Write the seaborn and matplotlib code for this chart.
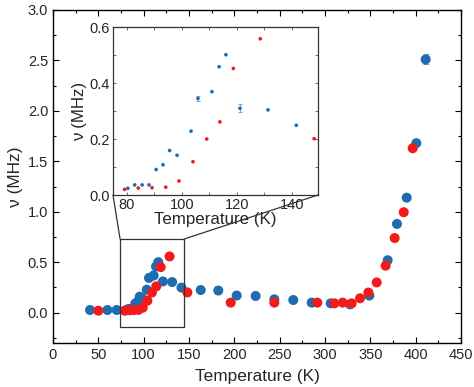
import numpy as np
import pandas as pd
import matplotlib
matplotlib.use("Agg")
import matplotlib.pyplot as plt
import seaborn as sns
from matplotlib.patches import Rectangle, ConnectionPatch
from matplotlib.ticker import MultipleLocator

# ---- data ----
blue_T = [40.8, 60, 70.2, 80.4, 82.9, 85.6, 88.1, 90.7, 93.2, 95.6, 98.3, 103.4, 105.9,
          111.0, 113.6, 116.1, 121.2, 131.4, 141.7, 162.9, 182.3, 202.6, 223.5, 244.1,
          265.0, 285.3, 306.3, 327.6, 348.9, 369.1, 379.4, 390.1, 400.7, 411.0]
blue_v = [0.027, 0.027, 0.027, 0.024, 0.036, 0.036, 0.036, 0.091, 0.108, 0.159, 0.142, 0.228, 0.345,
          0.369, 0.458, 0.501, 0.310, 0.304, 0.249, 0.225, 0.22, 0.17, 0.166, 0.133,
          0.126, 0.10, 0.093, 0.083, 0.17, 0.52, 0.88, 1.14, 1.68, 2.51]
red_T = [50.0, 79.2, 84.2, 89.2, 94.2, 99.0, 104.1, 109.1, 113.9, 118.8, 128.6, 148.2,
         196.0, 244.1, 291.5, 310.4, 319.5, 329.4, 338.6, 347.8, 357.0, 366.9, 376.8,
         386.8, 396.7]
red_v = [0.02, 0.020, 0.025, 0.026, 0.028, 0.050, 0.119, 0.200, 0.261, 0.452, 0.558, 0.201,
         0.10, 0.10, 0.10, 0.093, 0.10, 0.093, 0.143, 0.20, 0.30, 0.466, 0.74,
         0.996, 1.63]
err_T = [105.9, 121.2, 411.0]
err_v = [0.345, 0.310, 2.51]
err_e = [0.010, 0.014, 0.05]

BLUE = "#1f6db0"
RED = "#f21a1a"

df = pd.DataFrame({
    "T": blue_T + red_T,
    "v": blue_v + red_v,
    "s": ["blue"] * len(blue_T) + ["red"] * len(red_T),
})

sns.set_theme(style="ticks")
plt.rcParams['font.family'] = ['Liberation Sans', 'DejaVu Sans']

fig = plt.figure(figsize=(4.74, 3.87), dpi=100)
ax = fig.add_axes([0.1118, 0.1137, 0.8608, 0.8605])

sns.scatterplot(data=df, x="T", y="v", hue="s", palette={"blue": BLUE, "red": RED},
                s=52, linewidth=0, legend=False, ax=ax, zorder=3)
ax.errorbar(err_T[2:], err_v[2:], yerr=err_e[2:], fmt="none", ecolor="#6fa3d0",
            elinewidth=0.8, capsize=2.5, capthick=0.8, zorder=2)

ax.set_xlim(0, 450)
ax.set_ylim(-0.3, 3.0)
ax.xaxis.set_major_locator(MultipleLocator(50))
ax.xaxis.set_minor_locator(MultipleLocator(25))
ax.yaxis.set_major_locator(MultipleLocator(0.5))
ax.yaxis.set_minor_locator(MultipleLocator(0.25))
ax.yaxis.set_major_formatter(matplotlib.ticker.FormatStrFormatter('%.1f'))
ax.tick_params(which="both", direction="in", top=True, right=True, labelsize=10.5,
               color="black", width=0.8)
ax.tick_params(which="major", length=4)
ax.tick_params(which="minor", length=2.5)
for sp in ax.spines.values():
    sp.set_color("black")
    sp.set_linewidth(1.0)
ax.set_xlabel("Temperature (K)", fontsize=12.4, labelpad=5)
ax.set_ylabel("ν (MHz)", fontsize=12.4, labelpad=3)

# zoom rectangle
rx0, rx1, ry0, ry1 = 74, 144.5, -0.14, 0.73
ax.add_patch(Rectangle((rx0, ry0), rx1 - rx0, ry1 - ry0, fill=False,
                       edgecolor="#333333", linewidth=0.9, zorder=4))

# inset
axin = fig.add_axes([0.2384, 0.4961, 0.4325, 0.4341])
sub = df[(df["T"] >= 75) & (df["T"] <= 150)]
sns.scatterplot(data=sub, x="T", y="v", hue="s", palette={"blue": BLUE, "red": RED},
                s=7, linewidth=0, legend=False, ax=axin, zorder=3)
axin.errorbar(err_T[:2], err_v[:2], yerr=err_e[:2], fmt="none", ecolor="#6fa3d0",
              elinewidth=0.7, capsize=1.5, capthick=0.7, zorder=2)
axin.set_xlim(75, 149.6)
axin.set_ylim(0, 0.6)
axin.xaxis.set_major_locator(MultipleLocator(20))
axin.xaxis.set_minor_locator(MultipleLocator(10))
axin.yaxis.set_major_locator(MultipleLocator(0.2))
axin.yaxis.set_minor_locator(MultipleLocator(0.1))
axin.yaxis.set_major_formatter(matplotlib.ticker.FormatStrFormatter('%.1f'))
axin.tick_params(which="both", direction="in", top=True, right=True, labelsize=10.5,
                 color="#555555", width=0.6, pad=2, length=2)
for sp in axin.spines.values():
    sp.set_color("#333333")
    sp.set_linewidth(0.9)
axin.set_xlabel("Temperature (K)", fontsize=12.2, labelpad=0)
axin.set_ylabel("ν (MHz)", fontsize=12.2, labelpad=2)

for (xa, ya) in [((rx0, ry1), (0, 0)), ((rx1, ry1), (1, 0))]:
    con = ConnectionPatch(xyA=xa, coordsA=ax.transData, xyB=ya, coordsB=axin.transAxes,
                          color="#333333", linewidth=0.9)
    fig.add_artist(con)

fig.savefig("out.png", dpi=100)
